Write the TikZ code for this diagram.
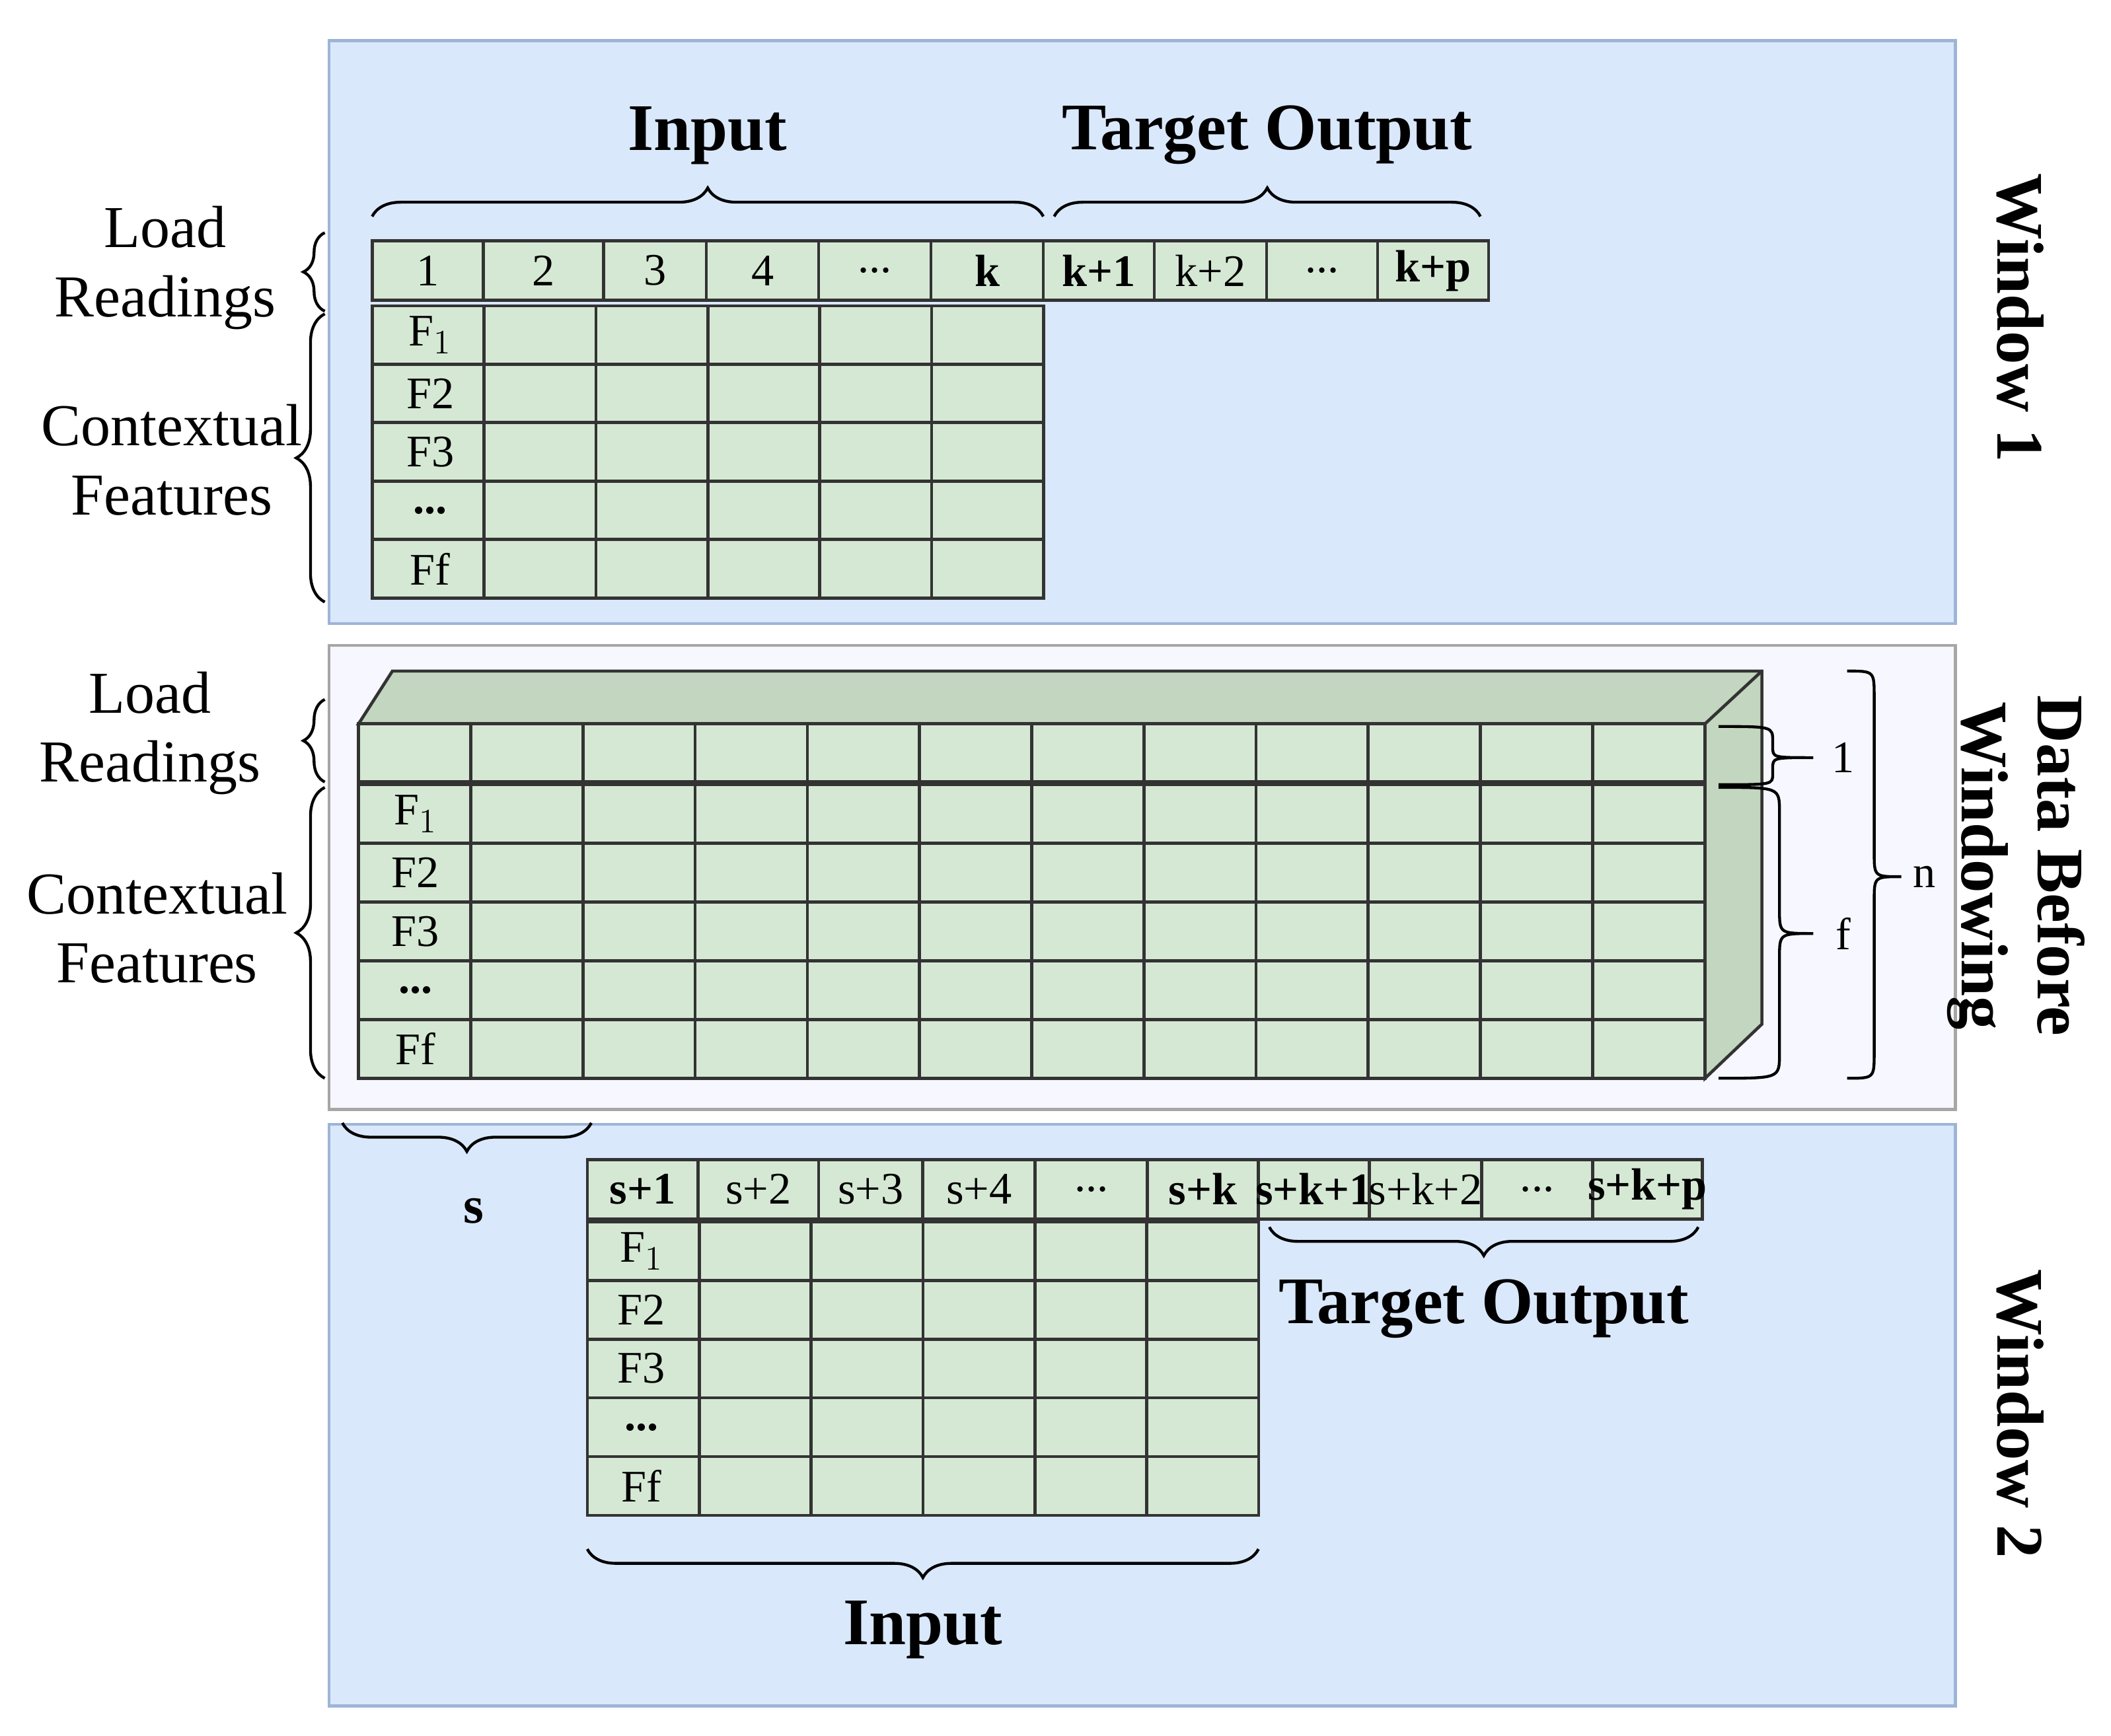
\documentclass[tikz,border=0pt]{standalone}
\usepackage{fontspec}
\setmainfont{Liberation Serif}
\usetikzlibrary{decorations.pathreplacing}
\definecolor{winblue}{HTML}{DAE8FC}
\definecolor{winedge}{HTML}{9DB4D6}
\definecolor{cellg}{HTML}{D5E8D4}
\definecolor{cellside}{HTML}{C3D6BF}
\newcommand\mydots{...}
\begin{document}
\begin{tikzpicture}[x=0.02cm,y=-0.02cm,
  win/.style={fill=winblue,draw=winedge,line width=1.2pt},
  cellbox/.style={fill=cellg,draw=black!80,line width=1.3pt},
  lbl/.style={font=\fontsize{19}{21}\selectfont},
  blbl/.style={font=\fontsize{19}{21}\selectfont\bfseries},
  side/.style={font=\fontsize{25}{29}\selectfont,align=center},
  big/.style={font=\fontsize{28}{32}\selectfont\bfseries},
  brc/.style={decorate,decoration={brace,amplitude=12pt},line width=1.2pt},
  brcs/.style={decorate,decoration={brace,amplitude=9pt},line width=1.2pt}]
\useasboundingbox (0,0) rectangle (1560,1283);
% boxes
\draw[win] (243,30) rectangle (1445,461);
\draw[fill=blue!3,draw=black!35,line width=1.2pt] (243,477) rectangle (1445,820);
\draw[win] (243,831) rectangle (1445,1261);
% Window 1 header
\foreach \a/\b/\t/\s in {275/357/1/lbl,357/446/2/lbl,446/522/3/lbl,522/605/4/lbl,605/688/\mydots/lbl,688/771/k/blbl,771/853/k+1/blbl,853/936/k+2/lbl,936/1018/\mydots/lbl,1018/1100/k+p/blbl}
  \draw[cellbox] (\a,178) rectangle node[\s]{\t} (\b,222);
\foreach \r/\t in {0/F$_1$,1/F2,2/F3,3/\textbf{\mydots},4/Ff}{
  \foreach \c in {0,1,2,3,4,5}
    \draw[cellbox] ({275+82.7*\c},{226+43.2*\r}) rectangle ({275+82.7*(\c+1)},{226+43.2*(\r+1)});
  \node[lbl] at (318,{247.6+43.2*\r}) {\t};}
\coordinate (i1a) at (275,160); \coordinate (i1b) at (771,160);
\draw[brc] (i1a) -- (i1b) node[midway,above=18pt,big] (in1) {Input};
\coordinate (t1a) at (779,160); \coordinate (t1b) at (1094,160);
\draw[brc] (t1a) -- (t1b) node[midway,above=18pt,big] (to1) {Target Output};
\draw[brcs] (240,230) -- (240,172);
\node[side] (lr1) at (122,198) {Load\\Readings};
\draw[brc] (240,445) -- (240,232);
\node[side] (cf1) at (127,340) {Contextual\\Features};
\node[big,rotate=-90] (w1) at (1493,235) {Window 1};
% Data block
\draw[fill=cellside,draw=black!80,line width=1.3pt] (265,535) -- (290,496) -- (1302,496) -- (1302,757) -- (1260,797) -- (1260,535) -- cycle;
\draw[black!80,line width=1.3pt] (1260,535) -- (1302,496);
\foreach \c in {0,1,2,3,4,5,6,7,8,9,10,11}{
  \draw[cellbox] ({265+82.9*\c},535) rectangle ({265+82.9*(\c+1)},578);
  \foreach \r in {0,1,2,3,4}
    \draw[cellbox] ({265+82.9*\c},{580+43.4*\r}) rectangle ({265+82.9*(\c+1)},{580+43.4*(\r+1)});}
\foreach \r/\t in {0/F$_1$,1/F2,2/F3,3/\textbf{\mydots},4/Ff}
  \node[lbl] at (307,{601.7+43.4*\r}) {\t};
\draw[line width=1.2pt] (1270,537) .. controls (1310,537) .. (1310,548) -- (1310,552) .. controls (1310,560) .. (1340,560) .. controls (1310,560) .. (1310,568) -- (1310,572) .. controls (1310,580) .. (1270,580);
\node[lbl] (one) at (1362,560) {1};
\draw[line width=1.2pt] (1270,582) .. controls (1315,582) .. (1315,600) -- (1315,672) .. controls (1315,690) .. (1340,690) .. controls (1315,690) .. (1315,708) -- (1315,779) .. controls (1315,797) .. (1270,797);
\node[lbl] (f) at (1362,690) {f};
\draw[line width=1.2pt] (1365,496) .. controls (1385,496) .. (1385,515) -- (1385,630) .. controls (1385,648) .. (1405,648) .. controls (1385,648) .. (1385,666) -- (1385,778) .. controls (1385,797) .. (1365,797);
\node[lbl] (n) at (1422,648) {n};
\draw[brcs] (240,578) -- (240,517);
\node[side] (lr2) at (111,542) {Load\\Readings};
\draw[brc] (240,797) -- (240,582);
\node[side] (cf2) at (116,686) {Contextual\\Features};
\node[big,rotate=-90,align=center] (dbw) at (1490,640) {Data Before\\Windowing};
% s brace
\draw[brc] (437,830) -- (253,830);
\node[font=\fontsize{22}{26}\selectfont\bfseries] (s) at (350,895) {s};
% Window 2
\foreach \a/\b/\t/\s in {434/516/s+1/blbl,516/605/s+2/lbl,605/682/s+3/lbl,682/765/s+4/lbl,765/848/\mydots/lbl,848/930/s+k/blbl,930/1012/s+k+1/blbl,1012/1095/s+k+2/lbl,1095/1177/\mydots/lbl,1177/1258/s+k+p/blbl}
  \draw[cellbox] (\a,857) rectangle node[\s]{\t} (\b,901);
\foreach \r/\t in {0/F$_1$,1/F2,2/F3,3/\textbf{\mydots},4/Ff}{
  \foreach \c in {0,1,2,3,4,5}
    \draw[cellbox] ({434+82.7*\c},{903+43.4*\r}) rectangle ({434+82.7*(\c+1)},{903+43.4*(\r+1)});
  \node[lbl] at (474,{924.7+43.4*\r}) {\t};}
\draw[brc] (1255,907) -- (938,907) node[midway,below=18pt,big] (to2) {Target Output};
\draw[brc] (930,1145) -- (434,1145) node[midway,below=18pt,big] (in2) {Input};
\node[big,rotate=-90] (w2) at (1493,1045) {Window 2};
\end{tikzpicture}
\end{document}
